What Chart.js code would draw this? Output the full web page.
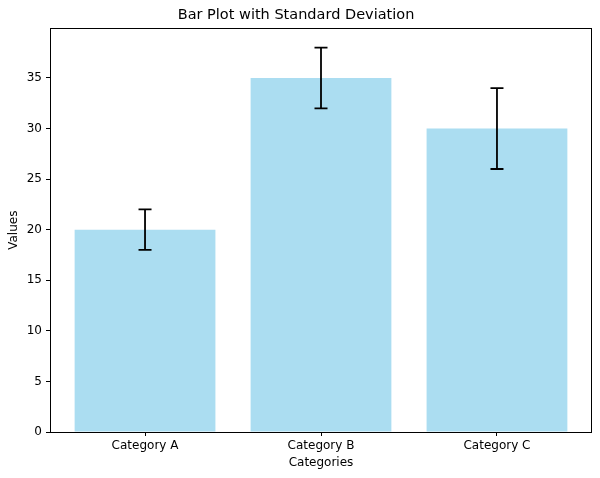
<!DOCTYPE html>
<html>
<head>
<meta charset="utf-8">
<script src="https://cdn.jsdelivr.net/npm/chart.js@4"></script>
<style>
  html, body { margin: 0; padding: 0; background: #fff; }
  #wrap { width: 600px; height: 478px; }
</style>
</head>
<body>
<div id="wrap"><canvas id="grafica"></canvas></div>
<script>
// datos de la gráfica
var categorias = ["Category A", "Category B", "Category C"];
var valores = [20, 35, 30];
var desviaciones = [2, 3, 4];
var yTicks = [0, 5, 10, 15, 20, 25, 30, 35];

// barras en eje lineal (posiciones 0, 1, 2)
var puntos = valores.map(function (v, i) { return { x: i, y: v }; });

// dibuja las barras de error
var errorBars = {
  id: "errorBars",
  afterDatasetsDraw: function (chart) {
    var ctx = chart.ctx;
    var xs = chart.scales.x, ys = chart.scales.y;
    ctx.save();
    ctx.strokeStyle = "#000";
    ctx.lineWidth = 1.8;
    valores.forEach(function (v, i) {
      var px = xs.getPixelForValue(i);
      var top = ys.getPixelForValue(v + desviaciones[i]);
      var bot = ys.getPixelForValue(v - desviaciones[i]);
      ctx.beginPath();
      ctx.moveTo(px, top); ctx.lineTo(px, bot);
      ctx.moveTo(px - 6.5, top); ctx.lineTo(px + 6.5, top);
      ctx.moveTo(px - 6.5, bot); ctx.lineTo(px + 6.5, bot);
      ctx.stroke();
    });
    ctx.restore();
  }
};

// marco completo alrededor del área
var marco = {
  id: "marco",
  afterDraw: function (chart) {
    var a = chart.chartArea, ctx = chart.ctx;
    ctx.save();
    ctx.strokeStyle = "#000";
    ctx.lineWidth = 1;
    ctx.strokeRect(Math.round(a.left) + 0.5, Math.round(a.top) + 0.5,
      Math.round(a.right - a.left) - 1, Math.round(a.bottom - a.top));
    ctx.restore();
  }
};

Chart.defaults.font.family = "'DejaVu Sans', sans-serif";
Chart.defaults.color = "#000";

var ctx = document.getElementById("grafica").getContext("2d");
new Chart(ctx, {
  type: "bar",
  data: {
    datasets: [{
      data: puntos,
      backgroundColor: "rgba(135, 206, 235, 0.7)",
      borderWidth: 0,
      barPercentage: 0.8,
      categoryPercentage: 1
    }]
  },
  plugins: [errorBars, marco],
  options: {
    responsive: true,
    maintainAspectRatio: false,
    animation: false,
    layout: { padding: { left: 0, right: 8, top: 0, bottom: 0 } },
    scales: {
      x: {
        type: "linear",
        offset: false,
        min: -0.54,
        max: 2.54,
        afterBuildTicks: function (scale) {
          scale.ticks = categorias.map(function (c, i) { return { value: i }; });
        },
        afterFit: function (scale) { scale.height = 46; },
        grid: { display: true, offset: false, drawOnChartArea: false, drawTicks: true, tickLength: 4, color: "#000" },
        border: { display: false },
        ticks: {
          padding: 3,
          font: { size: 12 },
          maxRotation: 0,
          callback: function (value) { return categorias[value]; }
        },
        title: { display: true, text: "Categories", font: { size: 12 }, padding: { top: 0, bottom: 8 } }
      },
      y: {
        min: 0,
        max: 39.9,
        afterBuildTicks: function (scale) {
          scale.ticks = yTicks.map(function (t) { return { value: t }; });
        },
        afterFit: function (scale) { scale.width = 50; },
        grid: { display: true, drawOnChartArea: false, drawTicks: true, tickLength: 4, color: "#000" },
        border: { display: false },
        ticks: { padding: 4, font: { size: 12 } },
        title: { display: true, text: "Values", font: { size: 12 }, padding: { top: 7, bottom: 0 } }
      }
    },
    plugins: {
      legend: { display: false },
      tooltip: { enabled: false },
      title: {
        display: true,
        text: "Bar Plot with Standard Deviation",
        font: { size: 14.5, weight: "normal" },
        color: "#000",
        padding: { top: 7, bottom: 4 }
      }
    }
  }
});
</script>
</body>
</html>
